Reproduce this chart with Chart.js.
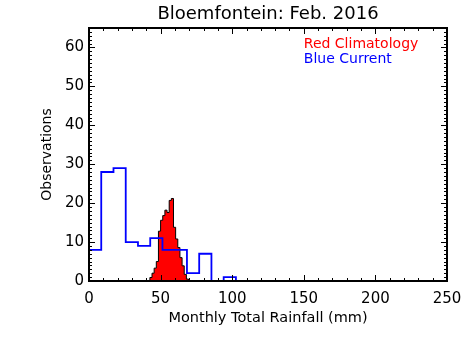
<!DOCTYPE html>
<html><head><meta charset="utf-8">
<script src="https://cdn.jsdelivr.net/npm/chart.js@4.4.0/dist/chart.umd.min.js"></script>
<style>html,body{margin:0;padding:0;background:#fff}#wrap{width:474px;height:338px}</style>
</head><body><div id="wrap"><canvas id="c" width="474" height="338"></canvas></div>
<script>
const chartTitle = 'Bloemfontein: Feb. 2016';
const xTitle = 'Monthly Total Rainfall (mm)';
const yTitle = 'Observations';
const xTicks = [0, 50, 100, 150, 200, 250];
const yTicks = [0, 10, 20, 30, 40, 50, 60];
const legendLabels = ['Red Climatology', 'Blue Current'];

// Blue "Current" histogram: bin edges (mm) and counts per bin
const blueEdges = [0, 8.55, 17.1, 25.65, 34.2, 42.75, 51.3, 59.85, 68.4, 76.95, 85.5, 94.05, 102.6];
const blueCounts = [8, 28, 29, 10, 9, 11, 8, 8, 2, 7, 0, 1];

// Red "Climatology" histogram: bin edges (mm) and counts per bin
const redEdges = [42.5, 44, 45.5, 47, 48.5, 50, 51.5, 53, 54.5, 56, 57.5, 59, 60.5, 62, 63.5, 65, 66.5, 68, 69.5];
const redCounts = [0.9, 2.0, 3.3, 5.0, 12.8, 15.6, 16.8, 18.2, 17.6, 20.7, 21.2, 13.8, 10.8, 8.6, 6.0, 3.9, 1.7, 0.5];

function stepPoints(edges, counts) {
  const pts = [{x: edges[0], y: 0}];
  counts.forEach((c, i) => pts.push({x: edges[i], y: c}));
  pts.push({x: edges[edges.length - 1], y: counts[counts.length - 1]});
  pts.push({x: edges[edges.length - 1], y: 0});
  return pts;
}

const FONT = 'DejaVu Sans';

const frameTicks = {
  id: 'frameTicks',
  afterDatasetsDraw(chart) {
    const {ctx, chartArea: a, scales: {x, y}} = chart;
    ctx.save();
    ctx.strokeStyle = '#000';
    ctx.lineWidth = 1;
    ctx.beginPath();
    for (let v = 0; v <= 250; v += 10) {
      const px = Math.round(x.getPixelForValue(v)) + 0.5;
      const L = (v % 50 === 0) ? 6 : 3;
      ctx.moveTo(px, a.bottom); ctx.lineTo(px, a.bottom - L);
      ctx.moveTo(px, a.top); ctx.lineTo(px, a.top + L);
    }
    for (let v = 0; v <= 65; v += 1) {
      const py = Math.round(y.getPixelForValue(v)) + 0.5;
      const L = (v % 10 === 0) ? 6 : 3;
      ctx.moveTo(a.left, py); ctx.lineTo(a.left + L, py);
      ctx.moveTo(a.right, py); ctx.lineTo(a.right - L, py);
    }
    ctx.stroke();
    ctx.lineWidth = 2;
    ctx.strokeRect(a.left, a.top, a.right - a.left, a.bottom - a.top);
    // legend text
    ctx.font = '14px "' + FONT + '"';
    ctx.textAlign = 'left';
    ctx.textBaseline = 'middle';
    ctx.fillStyle = '#ff0000';
    ctx.fillText(legendLabels[0], x.getPixelForValue(150), y.getPixelForValue(60.8));
    ctx.fillStyle = '#0000ff';
    ctx.fillText(legendLabels[1], x.getPixelForValue(150), y.getPixelForValue(57.0));
    ctx.restore();
  }
};

new Chart(document.getElementById('c'), {
  type: 'line',
  data: {
    datasets: [
      {
        label: legendLabels[1],
        data: stepPoints(blueEdges, blueCounts),
        stepped: 'before',
        borderColor: '#0000ff',
        borderWidth: 1.8,
        pointRadius: 0,
        fill: false,
        order: 0
      },
      {
        label: legendLabels[0],
        data: stepPoints(redEdges, redCounts),
        stepped: 'before',
        borderColor: '#000000',
        borderWidth: 1,
        backgroundColor: '#ff0000',
        pointRadius: 0,
        fill: 'origin',
        order: 1
      }
    ]
  },
  options: {
    responsive: false,
    animation: false,
    layout: {padding: {left: 0, right: 27, top: 0, bottom: 0}},
    plugins: {
      legend: {display: false},
      tooltip: {enabled: false},
      title: {
        display: true, text: chartTitle, fullSize: false, color: '#000',
        font: {family: FONT, size: 18, weight: 'normal'},
        padding: {top: 4, bottom: 2.4}
      }
    },
    scales: {
      x: {
        type: 'linear', min: 0, max: 250,
        afterBuildTicks: s => { s.ticks = xTicks.map(v => ({value: v})); },
        ticks: {color: '#000', font: {family: FONT, size: 15}, padding: 9, maxRotation: 0, autoSkip: false},
        grid: {display: false, drawTicks: false},
        border: {display: false},
        title: {display: true, text: xTitle, color: '#000', font: {family: FONT, size: 14.5}, padding: {top: 0, bottom: 11}},
        afterFit: s => { s.height = 57; }
      },
      y: {
        type: 'linear', min: 0, max: 65,
        afterBuildTicks: s => { s.ticks = yTicks.map(v => ({value: v})); },
        ticks: {color: '#000', font: {family: FONT, size: 15}, padding: 5, autoSkip: false},
        grid: {display: false, drawTicks: false},
        border: {display: false},
        title: {display: true, text: yTitle, color: '#000', font: {family: FONT, size: 14}, padding: {top: 39, bottom: 0}},
        afterFit: s => { s.width = 89; }
      }
    }
  },
  plugins: [frameTicks]
});
</script>
</body></html>
